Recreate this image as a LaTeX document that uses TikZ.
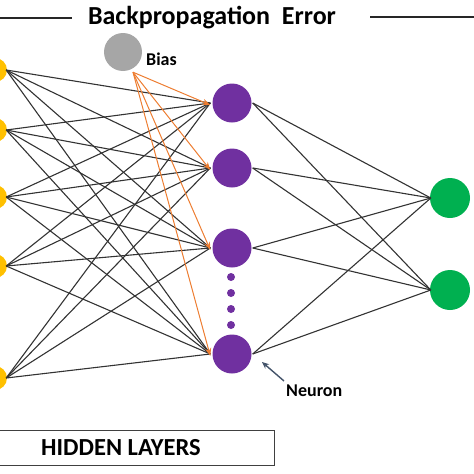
\documentclass[tikz,border=0pt]{standalone}
\usepackage{fontspec}
\setmainfont{Carlito}
\usetikzlibrary{arrows.meta}
\definecolor{inY}{HTML}{FFC000}
\definecolor{hidP}{HTML}{7030A0}
\definecolor{outG}{HTML}{00B050}
\definecolor{biasG}{HTML}{A6A6A6}
\definecolor{orangeL}{HTML}{ED7D31}
\definecolor{lineG}{HTML}{333333}
\definecolor{arrowB}{HTML}{44546A}
\begin{document}
\begin{tikzpicture}[x=1pt,y=-1pt,
  inneur/.style={circle,fill=inY,minimum size=24pt,inner sep=0pt},
  hidneur/.style={circle,fill=hidP,minimum size=39pt,inner sep=0pt},
  outneur/.style={circle,fill=outG,minimum size=40pt,inner sep=0pt},
  dotneur/.style={circle,fill=hidP,minimum size=8pt,inner sep=0pt},
  conn/.style={draw=lineG,line width=1.1pt},
  biasconn/.style={draw=orangeL,line width=1pt,-{Stealth[length=8pt,width=6pt]}},
  lbl/.style={font=\bfseries,text=black,inner sep=0pt}]
\useasboundingbox (0,0) rectangle (474,474);
% input nodes
\foreach \n/\y in {1/70,2/130,3/197,4/266,5/378}
  \node[inneur] (i\n) at (-5,\y) {};
% hidden nodes
\foreach \n/\y in {1/103,2/168,3/248,4/354}
  \node[hidneur] (h\n) at (232,\y) {};
% dots
\foreach \n/\y in {1/277,2/293,3/309,4/325}
  \node[dotneur] (d\n) at (231,\y) {};
% output nodes
\node[outneur] (o1) at (450,198) {};
\node[outneur] (o2) at (450,290) {};
% bias
\node[circle,fill=biasG,minimum size=38pt,inner sep=0pt] (b) at (123,52) {};
\node[lbl,font=\bfseries\fontsize{18}{20}\selectfont,anchor=west] (blbl) at (146,59) {Bias};
% connections input->hidden
\foreach \i in {1,...,5}
  \foreach \h in {1,...,4}
    \draw[conn] ([xshift=-1pt]i\i.east) -- ([xshift=-2pt]h\h.west);
% hidden->output
\foreach \h in {1,...,4}
  \foreach \o in {1,2}
    \draw[conn] ([xshift=1pt]h\h.east) -- ([xshift=1pt]o\o.west);
% bias arrows
\coordinate (bs) at ([shift={(10pt,-1pt)}]b.south);
\foreach \h in {1,...,4}
  \draw[biasconn] (bs) -- ([shift={(-2pt,-2pt)}]h\h.west);
% title
\node[lbl,font=\bfseries\fontsize{26}{30}\selectfont] (title) at (212,18) {Backpropagation\ \ Error};
\coordinate (tl) at (0,18);
\coordinate (tle) at (72,18);
\coordinate (trs) at (370,17);
\coordinate (tr) at (474,17);
\draw[line width=2.2pt,draw=black!85] (tl) -- (tle);
\draw[line width=2.2pt,draw=black!85] (trs) -- (tr);
% neuron label
\node[lbl,font=\bfseries\fontsize{18}{20}\selectfont,anchor=west] (nlbl) at (286,391) {Neuron};
\coordinate (na) at (284,381);
\coordinate (nt) at (262,362);
\draw[draw=arrowB,line width=1.4pt,-{Stealth[length=7pt,width=6pt]}] (na) -- (nt);
% hidden layers box
\node[draw=black!75,line width=1.4pt,minimum width=275pt,minimum height=35pt,anchor=north west,inner sep=0pt] (box) at (-1,430) {};
\node[lbl,font=\bfseries\fontsize{24.5}{28}\selectfont] (boxlbl) at (121,448) {HIDDEN LAYERS};
\end{tikzpicture}
\end{document}
